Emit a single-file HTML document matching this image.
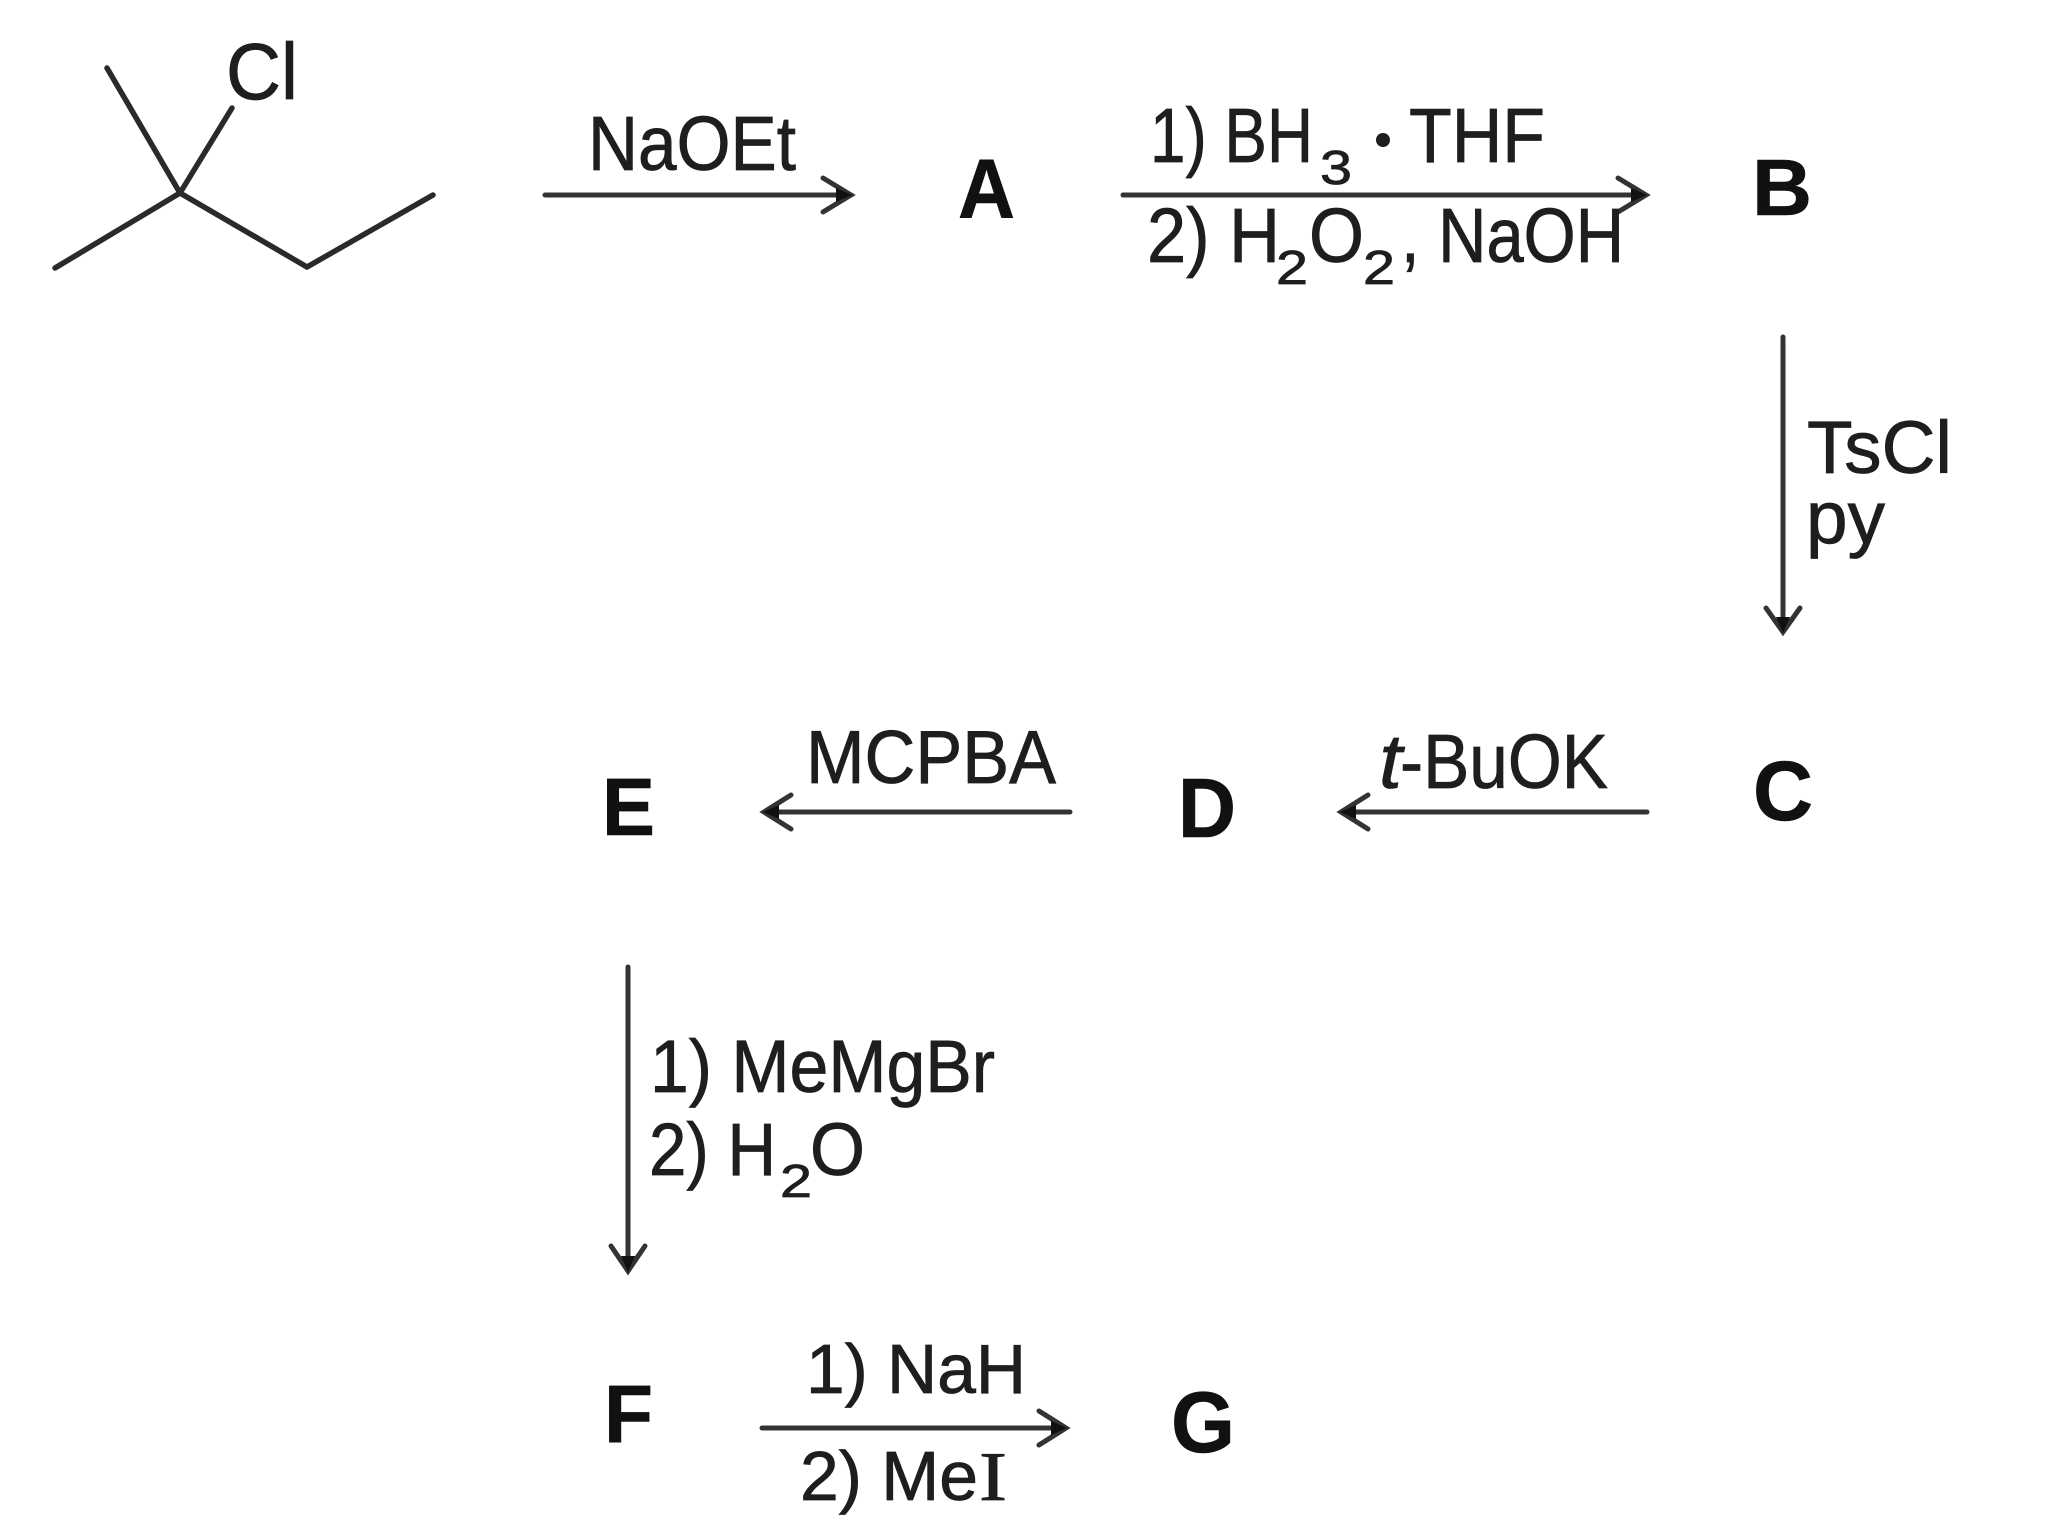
<!DOCTYPE html>
<html>
<head>
<meta charset="utf-8">
<style>
  html, body { margin: 0; padding: 0; background: #ffffff; }
  svg { display: block; }
  text { font-family: "Liberation Sans", Arial, sans-serif; fill: #1e1e1e; stroke: #1e1e1e; stroke-width: 0.8; }
  .b { font-weight: bold; fill: #111; stroke: #111; stroke-width: 0.6; }
</style>
</head>
<body>
<svg width="2046" height="1533" viewBox="0 0 2046 1533" xmlns="http://www.w3.org/2000/svg">
  <rect width="2046" height="1533" fill="#ffffff"/>

  <!-- Starting material: 2-chloro-2-methylbutane skeletal -->
  <g stroke="#2a2a2a" stroke-width="5.5" stroke-linecap="round" fill="none">
    <line x1="107" y1="68" x2="180" y2="193"/>
    <line x1="180" y1="193" x2="232" y2="108"/>
    <line x1="55" y1="268" x2="180" y2="193"/>
    <line x1="180" y1="193" x2="307" y2="267"/>
    <line x1="307" y1="267" x2="433" y2="195"/>
  </g>
  <text x="226" y="99" font-size="80" textLength="72" lengthAdjust="spacingAndGlyphs">Cl</text>

  <!-- Arrows -->
  <g stroke="#333" stroke-width="5" stroke-linecap="round" fill="none">
    <line x1="545" y1="195" x2="848" y2="195"/>
    <polyline points="823,178 851,195 823,212"/>
    <line x1="1123" y1="195" x2="1643" y2="195"/>
    <polyline points="1618,178 1646,195 1618,212"/>
    <line x1="1783" y1="337" x2="1783" y2="629"/>
    <polyline points="1766,608 1783,632 1800,608"/>
    <line x1="1647" y1="812" x2="1344" y2="812"/>
    <polyline points="1368,795 1341,812 1368,829"/>
    <line x1="1070" y1="812" x2="767" y2="812"/>
    <polyline points="791,795 764,812 791,829"/>
    <line x1="628" y1="967" x2="628" y2="1268"/>
    <polyline points="611,1246 628,1271 645,1246"/>
    <line x1="762" y1="1428" x2="1063" y2="1428"/>
    <polyline points="1039,1411 1066,1428 1039,1445"/>
  </g>
  <g fill="#111">
    <polygon points="852,195 836,188 836,202"/>
    <polygon points="1647,195 1631,188 1631,202"/>
    <polygon points="1783,633 1776,617 1790,617"/>
    <polygon points="1340,812 1356,805 1356,819"/>
    <polygon points="763,812 779,805 779,819"/>
    <polygon points="628,1272 621,1256 635,1256"/>
    <polygon points="1067,1428 1051,1421 1051,1435"/>
  </g>

  <!-- Reagents -->
  <text x="588" y="170" font-size="77" textLength="208" lengthAdjust="spacingAndGlyphs">NaOEt</text>

  <text x="1150" y="162" font-size="77" textLength="163" lengthAdjust="spacingAndGlyphs">1) BH</text>
  <text x="1320" y="184" font-size="48" textLength="32" lengthAdjust="spacingAndGlyphs">3</text>
  <circle cx="1383" cy="140" r="7" fill="#1e1e1e"/>
  <text x="1409" y="162" font-size="77" textLength="136" lengthAdjust="spacingAndGlyphs">THF</text>

  <text x="1147" y="262" font-size="77" textLength="133" lengthAdjust="spacingAndGlyphs">2) H</text>
  <text x="1276" y="284" font-size="48" textLength="32" lengthAdjust="spacingAndGlyphs">2</text>
  <text x="1309" y="262" font-size="77" textLength="55" lengthAdjust="spacingAndGlyphs">O</text>
  <text x="1363" y="284" font-size="48" textLength="32" lengthAdjust="spacingAndGlyphs">2</text>
  <text x="1401" y="262" font-size="77" textLength="223" lengthAdjust="spacingAndGlyphs">, NaOH</text>

  <text x="1807" y="473" font-size="74" textLength="145" lengthAdjust="spacingAndGlyphs">TsCl</text>
  <text x="1806" y="543" font-size="74" textLength="79" lengthAdjust="spacingAndGlyphs">py</text>

  <text x="1379" y="788" font-size="77" font-style="italic" textLength="23" lengthAdjust="spacingAndGlyphs">t</text>
  <text x="1400" y="788" font-size="77" textLength="208" lengthAdjust="spacingAndGlyphs">-BuOK</text>

  <text x="806" y="783" font-size="75" textLength="250" lengthAdjust="spacingAndGlyphs">MCPBA</text>

  <text x="650" y="1092" font-size="74" textLength="345" lengthAdjust="spacingAndGlyphs">1) MeMgBr</text>
  <text x="649" y="1175" font-size="74" textLength="127" lengthAdjust="spacingAndGlyphs">2) H</text>
  <text x="780" y="1197" font-size="46" textLength="32" lengthAdjust="spacingAndGlyphs">2</text>
  <text x="810" y="1175" font-size="74" textLength="55" lengthAdjust="spacingAndGlyphs">O</text>

  <text x="806" y="1393" font-size="70" textLength="220" lengthAdjust="spacingAndGlyphs">1) NaH</text>
  <text x="800" y="1500" font-size="70" textLength="178" lengthAdjust="spacingAndGlyphs">2) Me</text>
  <text x="979" y="1500" font-size="70" textLength="28" lengthAdjust="spacingAndGlyphs" style="font-family:'Liberation Serif', serif;">I</text>

  <!-- Compound labels -->
  <text class="b" x="958" y="218" font-size="84" textLength="57" lengthAdjust="spacingAndGlyphs">A</text>
  <text class="b" x="1752" y="215" font-size="80" textLength="60" lengthAdjust="spacingAndGlyphs">B</text>
  <text class="b" x="1753" y="820" font-size="84" textLength="60" lengthAdjust="spacingAndGlyphs">C</text>
  <text class="b" x="1178" y="837" font-size="84" textLength="58" lengthAdjust="spacingAndGlyphs">D</text>
  <text class="b" x="602" y="835" font-size="82" textLength="53" lengthAdjust="spacingAndGlyphs">E</text>
  <text class="b" x="604" y="1442" font-size="82" textLength="49" lengthAdjust="spacingAndGlyphs">F</text>
  <text class="b" x="1171" y="1452" font-size="86" textLength="64" lengthAdjust="spacingAndGlyphs">G</text>
</svg>
</body>
</html>
